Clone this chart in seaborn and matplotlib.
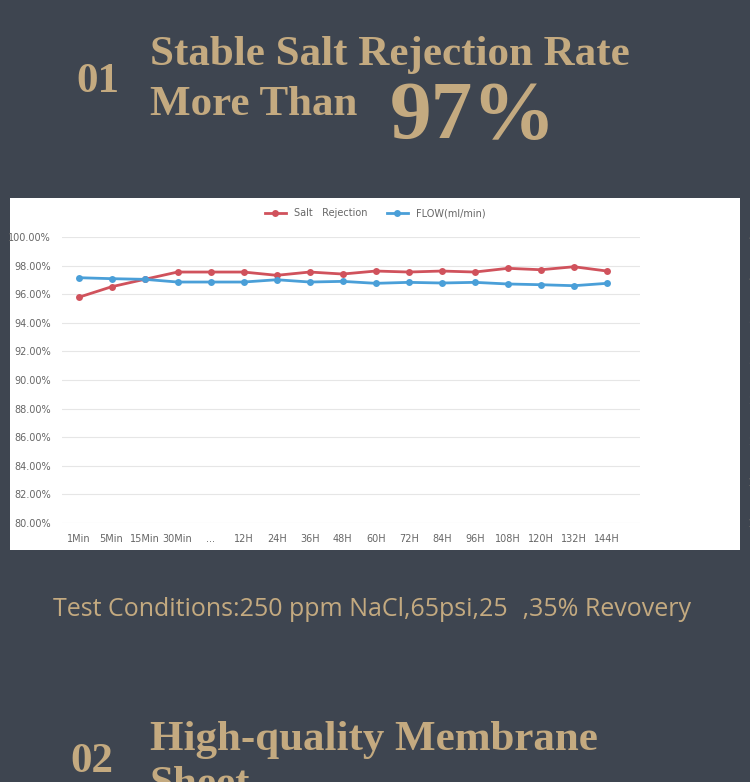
import matplotlib
matplotlib.use("Agg")
import matplotlib.pyplot as plt
import seaborn as sns
import pandas as pd

labels = ["1Min","5Min","15Min","30Min","...","12H","24H","36H","48H","60H","72H","84H","96H","108H","120H","132H","144H"]
salt = [95.78,96.52,97.04,97.55,97.55,97.55,97.32,97.55,97.41,97.62,97.55,97.62,97.55,97.81,97.71,97.92,97.62]
flow = [400.2,399.0,398.2,394.9,394.9,394.9,397.7,394.9,395.7,393.3,394.5,393.7,394.5,392.5,391.6,390.4,393.3]

bg = "#3e4550"
gold = "#c4aa80"
fig = plt.figure(figsize=(7.5, 7.82), dpi=100)
fig.patch.set_facecolor(bg)
W, H = 750, 782
def ft(x, y): return x / W, 1 - y / H

serif = dict(fontweight="bold", family="Liberation Serif", color=gold, va="center")
fig.text(*ft(76, 82), "01", fontsize=31, **serif)
fig.text(*ft(150, 55), "Stable Salt Rejection Rate", fontsize=31, **serif)
fig.text(*ft(150, 105), "More Than", fontsize=31, **serif)
fig.text(*ft(390, 118), "97%", fontsize=60, **serif)
fig.text(*ft(372, 609), "Test Conditions:250 ppm NaCl,65psi,25\u2103,35% Revovery", fontsize=18,
         family=["Open Sans", "Noto Sans CJK SC"], color=gold, va="center", ha="center")
fig.text(*ft(70, 762), "02", fontsize=31, **serif)
fig.text(*ft(150, 740), "High-quality Membrane", fontsize=31, **serif)
fig.text(*ft(150, 785), "Sheet", fontsize=31, **serif)

panel = fig.add_axes([10/W, 1-550/H, 730/W, 352/H])
panel.set_facecolor("white"); panel.set_xticks([]); panel.set_yticks([])
for s in panel.spines.values(): s.set_visible(False)

ax = fig.add_axes([62/W, 1-523/H, (640-62)/W, 286/H])
df = pd.DataFrame({"x": range(len(labels)), "salt": salt, "flow": flow})
sns.lineplot(data=df, x="x", y="salt", ax=ax, color="#d0525c", marker="o", markersize=5, markeredgewidth=0, linewidth=2, label="Salt   Rejection", legend=False)
ax.set_ylim(80, 100)
ax.set_xlim(-0.5, len(labels))
ax.set_yticks(range(80, 101, 2))
ax.set_yticklabels([f"{v:.2f}%" for v in range(80, 101, 2)])
ax.grid(axis="y", color="#e6e6e6", linewidth=0.8)
ax.set_axisbelow(True)
ax.set_xticks(range(len(labels)))
ax.set_xticklabels(labels)
ax2 = ax.twinx()
sns.lineplot(data=df, x="x", y="flow", ax=ax2, color="#4a9fd8", marker="o", markersize=5, markeredgewidth=0, linewidth=2, label="FLOW(ml/min)", legend=False)
ax2.set_ylim(100, 450)
ax2.set_yticks(range(100, 451, 50))
for a in (ax, ax2):
    a.set_facecolor("none")
    a.set_xlabel(""); a.set_ylabel("")
    for s in a.spines.values(): s.set_visible(False)
    a.tick_params(length=0, labelsize=7, colors="#666666")
ax.tick_params(axis="y", pad=8)
ax2.tick_params(axis="y", pad=78)
ax.tick_params(axis="x", pad=8)
h1, l1 = ax.get_legend_handles_labels(); h2, l2 = ax2.get_legend_handles_labels()
fig.legend(h1 + h2, l1 + l2, loc="center", bbox_to_anchor=(375/W, 1-213/H), ncol=2, frameon=False, fontsize=7, labelcolor="#666666", handlelength=2.2)
fig.savefig("out.png", dpi=100, facecolor=bg)
